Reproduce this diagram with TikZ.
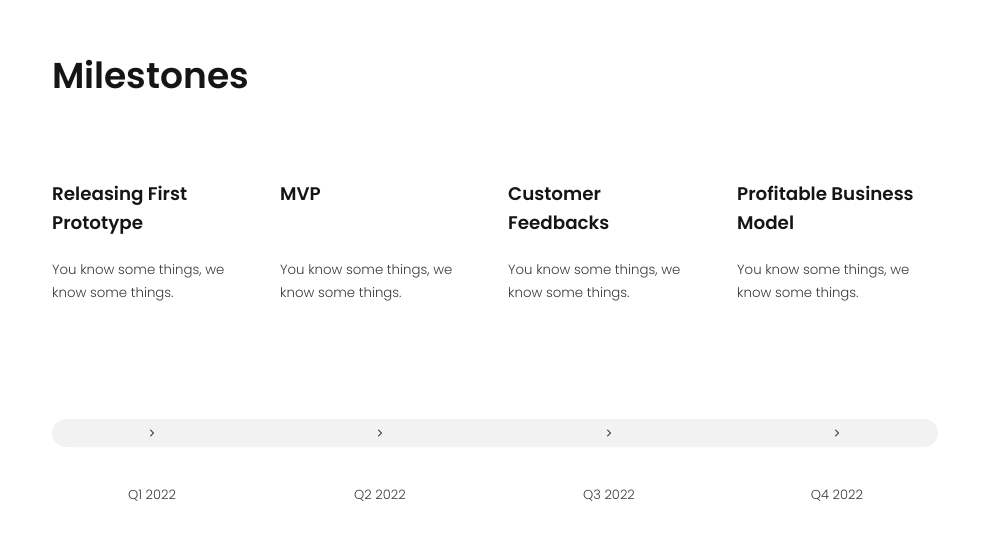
\documentclass[tikz,border=0pt]{standalone}
\usepackage{fontspec}
\setmainfont{Poppins}[BoldFont=* SemiBold]
\newfontfamily\lightfont{Poppins Light}
\definecolor{ink}{HTML}{151515}
\definecolor{bodyc}{HTML}{3A3A3A}
\definecolor{barc}{HTML}{F2F2F2}
\begin{document}
\begin{tikzpicture}[x=1pt,y=-1pt,
  title/.style={anchor=base west,inner sep=0pt,font=\fontsize{36}{40}\selectfont\bfseries,text=ink},
  head/.style={anchor=base west,inner sep=0pt,align=left,font=\fontsize{18.3}{29}\selectfont\bfseries,text=ink},
  body/.style={anchor=base west,inner sep=0pt,align=left,font=\lightfont\fontsize{13.3}{23}\selectfont,text=bodyc},
  date/.style={anchor=base,inner sep=0pt,font=\lightfont\fontsize{13}{16}\selectfont,text=bodyc},
  chev/.style={draw=bodyc,line width=0.8pt,line cap=round,line join=round}]
\useasboundingbox (0,0) rectangle (990,557);
\node[title] (t) at (52,88) {Milestones};
\node[head] (h1) at (52,229) {Releasing First\\Prototype};
\node[head] (h2) at (280,200) {MVP};
\node[head] (h3) at (508,229) {Customer\\Feedbacks};
\node[head] (h4) at (737,229) {Profitable Business\\Model};
\foreach \x/\n in {52/1,280/2,508/3,737/4}{
  \node[body] (b\n) at (\x,297) {You know some things, we\\know some things.};
}
\fill[barc,rounded corners=14pt] (52,419) rectangle (938,447);
\foreach \x/\n/\q in {152/1/Q1,380/2/Q2,609/3/Q3,837/4/Q4}{
  \coordinate (c\n) at (\x,433);
  \draw[chev] ([xshift=-1.5pt,yshift=-3pt]c\n) -- ([xshift=1.5pt]c\n) -- ([xshift=-1.5pt,yshift=3pt]c\n);
  \node[date] (d\n) at (\x,499) {\q\ 2022};
}
\end{tikzpicture}
\end{document}
